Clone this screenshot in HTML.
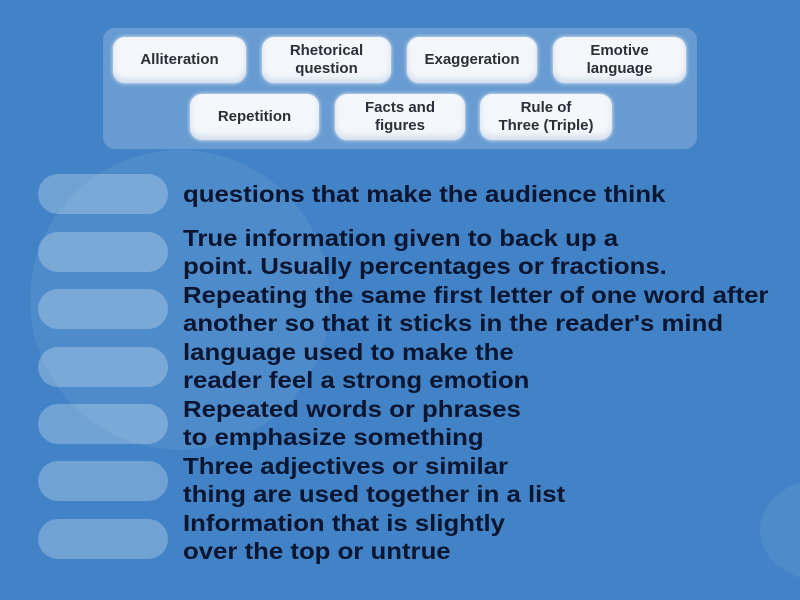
<!DOCTYPE html>
<html><head><meta charset="utf-8"><style>
*{margin:0;padding:0;box-sizing:border-box}
body{width:800px;height:600px;overflow:hidden;background:#4183c6;position:relative;font-family:"Liberation Sans",sans-serif}
.blob{position:absolute;border-radius:50%;background:rgba(255,255,255,0.07)}
.panel{position:absolute;left:103px;top:28px;width:594px;height:121px;border-radius:12px;background:rgba(255,255,255,0.2)}
.card{position:absolute;height:46px;border-radius:12px;background:#f4f7fb;box-shadow:0 0 4px rgba(255,255,255,.9),inset 0 -4px 6px rgba(190,205,225,.6);display:flex;align-items:center;justify-content:center;text-align:center;font-weight:bold;font-size:15px;line-height:18px;color:#2a2f3a}
.slot{position:absolute;left:38px;width:130px;height:40px;border-radius:20px;background:rgba(255,255,255,0.25)}
.t{position:absolute;left:183px;font-weight:bold;font-size:23px;color:#0b1530;white-space:nowrap;line-height:28px;transform:scaleX(1.12);transform-origin:0 0}
</style></head><body>
<div class="blob" style="left:30px;top:150px;width:300px;height:300px"></div>
<div class="blob" style="left:760px;top:480px;width:120px;height:100px"></div>
<div class="panel"></div>
<div class="card" style="left:113px;top:37px;width:133px">Alliteration</div>
<div class="card" style="left:262px;top:37px;width:129px">Rhetorical<br>question</div>
<div class="card" style="left:407px;top:37px;width:130px">Exaggeration</div>
<div class="card" style="left:553px;top:37px;width:133px">Emotive<br>language</div>
<div class="card" style="left:190px;top:94px;width:129px">Repetition</div>
<div class="card" style="left:335px;top:94px;width:130px">Facts and<br>figures</div>
<div class="card" style="left:480px;top:94px;width:132px">Rule of<br>Three (Triple)</div>
<div class="slot" style="top:174px"></div>
<div class="slot" style="top:232px"></div>
<div class="slot" style="top:289px"></div>
<div class="slot" style="top:347px"></div>
<div class="slot" style="top:404px"></div>
<div class="slot" style="top:461px"></div>
<div class="slot" style="top:519px"></div>
<div class="t" style="top:180px">questions that make the audience think</div>
<div class="t" style="top:224px">True information given to back up a</div>
<div class="t" style="top:252px">point. Usually percentages or fractions.</div>
<div class="t" style="top:281px">Repeating the same first letter of one word after</div>
<div class="t" style="top:309px">another so that it sticks in the reader's mind</div>
<div class="t" style="top:338px">language used to make the</div>
<div class="t" style="top:366px">reader feel a strong emotion</div>
<div class="t" style="top:395px">Repeated words or phrases</div>
<div class="t" style="top:423px">to emphasize something</div>
<div class="t" style="top:452px">Three adjectives or similar</div>
<div class="t" style="top:480px">thing are used together in a list</div>
<div class="t" style="top:509px">Information that is slightly</div>
<div class="t" style="top:537px">over the top or untrue</div>
</body></html>
